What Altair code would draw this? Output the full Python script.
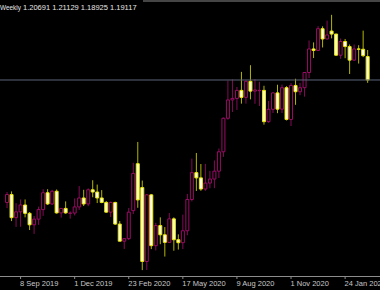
import altair as alt
import pandas as pd

# Weekly EURUSD candles (bar open dates, Sundays)
dates = [
    "2019-08-18", "2019-08-25", "2019-09-01", "2019-09-08", "2019-09-15", "2019-09-22",
    "2019-09-29", "2019-10-06", "2019-10-13", "2019-10-20", "2019-10-27", "2019-11-03",
    "2019-11-10", "2019-11-17", "2019-11-24", "2019-12-01", "2019-12-08", "2019-12-15",
    "2019-12-22", "2019-12-29", "2020-01-05", "2020-01-12", "2020-01-19", "2020-01-26",
    "2020-02-02", "2020-02-09", "2020-02-16", "2020-02-23", "2020-03-01", "2020-03-08",
    "2020-03-15", "2020-03-22", "2020-03-29", "2020-04-05", "2020-04-12", "2020-04-19",
    "2020-04-26", "2020-05-03", "2020-05-10", "2020-05-17", "2020-05-24", "2020-05-31",
    "2020-06-07", "2020-06-14", "2020-06-21", "2020-06-28", "2020-07-05", "2020-07-12",
    "2020-07-19", "2020-07-26", "2020-08-02", "2020-08-09", "2020-08-16", "2020-08-23",
    "2020-08-30", "2020-09-06", "2020-09-13", "2020-09-20", "2020-09-27", "2020-10-04",
    "2020-10-11", "2020-10-18", "2020-10-25", "2020-11-01", "2020-11-08", "2020-11-15",
    "2020-11-22", "2020-11-29", "2020-12-06", "2020-12-13", "2020-12-20", "2020-12-27",
    "2021-01-03", "2021-01-10", "2021-01-17", "2021-01-24", "2021-01-31", "2021-02-07",
    "2021-02-14", "2021-02-21", "2021-02-28",
]
opens = [
    1.1090, 1.1143, 1.0988, 1.1027, 1.1073, 1.1017, 1.0940, 1.0978, 1.1042, 1.1155,
    1.1080, 1.1165, 1.1020, 1.1050, 1.1017, 1.1019, 1.1060, 1.1120, 1.1080, 1.1175,
    1.1160, 1.1120, 1.1090, 1.1025, 1.1090, 1.0945, 1.0830, 1.0847, 1.1035, 1.1350,
    1.1190, 1.0694, 1.1141, 1.0800, 1.0935, 1.0873, 1.0822, 1.0980, 1.0840, 1.0820,
    1.0900, 1.1110, 1.1290, 1.1255, 1.1180, 1.1220, 1.1247, 1.1300, 1.1430, 1.1655,
    1.1778, 1.1788, 1.1842, 1.1795, 1.1903, 1.1837, 1.1840, 1.1842, 1.1632, 1.1715,
    1.1825, 1.1716, 1.1860, 1.1647, 1.1875, 1.1833, 1.1860, 1.1962, 1.2120, 1.2110,
    1.2256, 1.2187, 1.2240, 1.2220, 1.2078, 1.2170, 1.2136, 1.2045, 1.2120, 1.2118,
    1.20691,
]
highs = [
    1.1160, 1.1164, 1.1085, 1.1110, 1.1110, 1.1026, 1.0999, 1.1062, 1.1179, 1.1179,
    1.1175, 1.1177, 1.1052, 1.1097, 1.1030, 1.1117, 1.1200, 1.1175, 1.1185, 1.1239,
    1.1210, 1.1173, 1.1100, 1.1096, 1.1095, 1.0965, 1.0848, 1.1053, 1.1356, 1.1496,
    1.1237, 1.1147, 1.1147, 1.0953, 1.0990, 1.0925, 1.1019, 1.0990, 1.0876, 1.1008,
    1.1147, 1.1384, 1.1422, 1.1348, 1.1349, 1.1302, 1.1372, 1.1452, 1.1660, 1.1908,
    1.1916, 1.1865, 1.1966, 1.1908, 1.2011, 1.1917, 1.1900, 1.1873, 1.1771, 1.1830,
    1.1880, 1.1881, 1.1870, 1.1891, 1.1920, 1.1893, 1.1964, 1.2177, 1.2164, 1.2273,
    1.2272, 1.2310, 1.2349, 1.2222, 1.2190, 1.2187, 1.2150, 1.2150, 1.2145, 1.2243,
    1.21129,
]
lows = [
    1.1052, 1.0965, 1.0926, 1.0927, 1.0990, 1.0905, 1.0879, 1.0940, 1.1000, 1.1073,
    1.1073, 1.1015, 1.0988, 1.1014, 1.0981, 1.1003, 1.1040, 1.1066, 1.1065, 1.1125,
    1.1086, 1.1085, 1.1020, 1.0992, 1.0940, 1.0830, 1.0778, 1.0838, 1.1012, 1.1054,
    1.0636, 1.0637, 1.0777, 1.0768, 1.0810, 1.0727, 1.0820, 1.0766, 1.0774, 1.0777,
    1.0870, 1.1097, 1.1167, 1.1168, 1.1168, 1.1185, 1.1186, 1.1254, 1.1396, 1.1645,
    1.1697, 1.1711, 1.1753, 1.1753, 1.1782, 1.1752, 1.1737, 1.1612, 1.1625, 1.1690,
    1.1689, 1.1690, 1.1640, 1.1603, 1.1745, 1.1810, 1.1800, 1.1925, 1.2059, 1.2110,
    1.2130, 1.2185, 1.2191, 1.2074, 1.2054, 1.2058, 1.1952, 1.2040, 1.2022, 1.2065,
    1.18925,
]
closes = [
    1.1143, 1.0988, 1.1027, 1.1073, 1.1017, 1.0940, 1.0978, 1.1042, 1.1155, 1.1080,
    1.1165, 1.1020, 1.1050, 1.1020, 1.1019, 1.1060, 1.1120, 1.1080, 1.1175, 1.1160,
    1.1120, 1.1090, 1.1025, 1.1090, 1.0945, 1.0830, 1.0847, 1.1025, 1.1285, 1.1107,
    1.0694, 1.1141, 1.0800, 1.0935, 1.0873, 1.0822, 1.0980, 1.0840, 1.0820, 1.0900,
    1.1110, 1.1290, 1.1255, 1.1180, 1.1220, 1.1247, 1.1300, 1.1430, 1.1655, 1.1778,
    1.1788, 1.1842, 1.1795, 1.1903, 1.1837, 1.1845, 1.1842, 1.1632, 1.1715, 1.1825,
    1.1716, 1.1860, 1.1647, 1.1875, 1.1833, 1.1860, 1.1962, 1.2120, 1.2110, 1.2256,
    1.2187, 1.2214, 1.2220, 1.2078, 1.2170, 1.2136, 1.2045, 1.2120, 1.2118, 1.2075,
    1.19117,
]

tick_dates = ["2019-09-08", "2019-12-01", "2020-02-23", "2020-05-17",
              "2020-08-09", "2020-11-01", "2021-01-24"]
timeframe = "Weekly"

df = pd.DataFrame({"date": dates, "open": opens, "high": highs, "low": lows, "close": closes})
df["dir"] = ["bull" if c >= o else "bear" for o, c in zip(opens, closes)]

BULL_STROKE = "#9a0c66"
BULL_WICK = "#840b57"
BEAR_STROKE = "#e8e800"
BEAR_FILL = "#fffff0"
BEAR_WICK = "#b4b400"
AXIS_COLOR = "#8c8c8c"
LABEL_COLOR = "#c8c8c8"
FONT = "Liberation Sans"


def ms(s):
    return int(pd.Timestamp(s, tz="UTC").value // 10**6)


x_scale = alt.Scale(type="utc", domain=[ms("2019-08-14 19:26"), ms("2021-03-11 09:50")])
x_enc = alt.X("date:T", scale=x_scale, axis=None)
y_scale = alt.Scale(domain=[1.05965, 1.24485], nice=False, zero=False)

base = alt.Chart(df)

wick_bull = base.transform_filter(alt.datum.dir == "bull").mark_rule(
    color=BULL_WICK, strokeWidth=1
).encode(x=x_enc, y=alt.Y("low:Q", scale=y_scale, axis=None), y2="high:Q")
wick_bear = base.transform_filter(alt.datum.dir == "bear").mark_rule(
    color=BEAR_WICK, strokeWidth=1
).encode(x=x_enc, y=alt.Y("low:Q", scale=y_scale, axis=None), y2="high:Q")

body_bull = base.transform_filter(alt.datum.dir == "bull").mark_bar(
    size=3, fill="#000000", stroke=BULL_STROKE, strokeWidth=1
).encode(x=x_enc, y=alt.Y("open:Q", scale=y_scale, axis=None), y2="close:Q")
body_bear = base.transform_filter(alt.datum.dir == "bear").mark_bar(
    size=3, fill=BEAR_FILL, stroke=BEAR_STROKE, strokeWidth=1
).encode(x=x_enc, y=alt.Y("open:Q", scale=y_scale, axis=None), y2="close:Q")

# last bar info
last_df = pd.DataFrame({
    "close": [closes[-1]],
    "tf": [timeframe],
    "ohlc": [" ".join(f"{v:.5f}" for v in (opens[-1], highs[-1], lows[-1], closes[-1]))],
})
last = alt.Chart(last_df)

price_line = last.mark_rule(color="#5c6478", strokeWidth=1).encode(
    y=alt.Y("close:Q", scale=y_scale, axis=None)
)
top_line = last.mark_rule(color="#8a8a8a", strokeWidth=1).encode(
    x=alt.value(143), x2=alt.value(380), y=alt.value(1)
)
title_tf = last.mark_text(
    align="left", baseline="alphabetic", font=FONT, fontSize=6.4, color="#e6e6e6"
).encode(x=alt.value(0), y=alt.value(9.5), text="tf:N")
title_vals = last.mark_text(
    align="left", baseline="alphabetic", font=FONT, fontSize=7.5, color="#e6e6e6"
).encode(x=alt.value(23), y=alt.value(9.5), text="ohlc:N")

# time axis drawn by hand
tick_df = pd.DataFrame({
    "date": tick_dates,
    "label": [f"{pd.Timestamp(s).day} {pd.Timestamp(s).strftime('%b %Y')}" for s in tick_dates],
})
ticks = alt.Chart(tick_df)
axis_line = last.mark_rule(color=AXIS_COLOR, strokeWidth=1).encode(
    x=alt.value(0), x2=alt.value(380), y=alt.value(276.5)
)
tick_marks = ticks.mark_rule(color=AXIS_COLOR, strokeWidth=1).encode(
    x=x_enc, y=alt.value(276), y2=alt.value(279)
)
tick_labels = ticks.mark_text(
    align="left", baseline="alphabetic", font=FONT, fontSize=7.5, color=LABEL_COLOR, dx=-0.5
).encode(x=x_enc, y=alt.value(285.5), text="label:N")

chart = alt.layer(
    wick_bull, wick_bear, body_bull, body_bear, price_line, top_line, title_tf, title_vals,
    axis_line, tick_marks, tick_labels
).properties(
    width=380,
    height=276,
    background="#000000",
    padding={"left": 0, "top": 0, "right": 0, "bottom": 14},
    autosize=alt.AutoSizeParams(type="none"),
).configure_view(stroke=None)

chart.save("out.html", embed_options={"renderer": "svg", "actions": False})
